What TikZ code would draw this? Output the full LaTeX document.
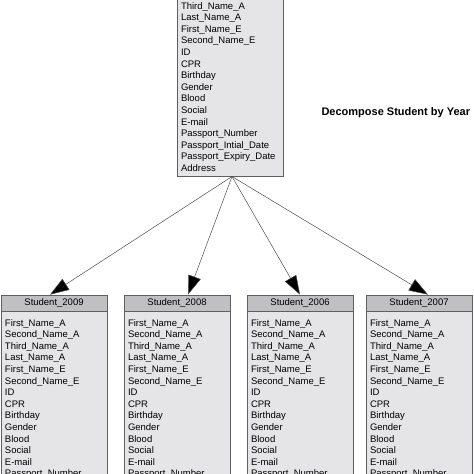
\documentclass[tikz,border=0pt]{standalone}
\usepackage{fontspec}
\setmainfont{Liberation Sans}
\usetikzlibrary{positioning,arrows.meta}

\definecolor{bodyfill}{RGB}{229,229,231}
\definecolor{headfill}{RGB}{192,192,194}
\definecolor{edgegray}{RGB}{95,95,95}

\tikzset{
  fieldbox/.style={draw=edgegray, fill=bodyfill, line width=0.7pt,
    text width=98pt, align=left, inner xsep=4pt, inner ysep=4.5pt,
    font=\fontsize{9.5}{11.6}\selectfont},
  headbox/.style={draw=edgegray, fill=headfill, line width=0.7pt,
    minimum width=106pt, minimum height=16pt, inner sep=0pt,
    font=\fontsize{9.5}{11.6}\selectfont},
  link/.style={draw=black!70, line width=0.5pt,
    -{Triangle[length=19pt,width=13pt,fill=black]}}
}

\newcommand{\yearfields}{First\_Name\_A\\ Second\_Name\_A\\ Third\_Name\_A\\
  Last\_Name\_A\\ First\_Name\_E\\ Second\_Name\_E\\ ID\\ CPR\\ Birthday\\
  Gender\\ Blood\\ Social\\ E-mail\\ Passport\_Number}

\begin{document}
\begin{tikzpicture}[x=1pt,y=-1pt]
\useasboundingbox (0,0) rectangle (474,474);
\clip (0,0) rectangle (474,474);

% person table, cut at the top
\node[fieldbox, anchor=south] (person) at (230,176.5) {Third\_Name\_A\\
  Last\_Name\_A\\ First\_Name\_E\\ Second\_Name\_E\\ ID\\ CPR\\ Birthday\\
  Gender\\ Blood\\ Social\\ E-mail\\ Passport\_Number\\
  Passport\_Intial\_Date\\ Passport\_Expiry\_Date\\ Address};

\node[anchor=west, font=\fontsize{11}{13}\selectfont\bfseries] (title)
  at (318,113) {Decompose Student by Year};

% one table per year
\foreach \yr/\xc/\tipx in {2009/54/-4, 2008/177/11, 2006/300/0, 2007/419/9} {
  \node[headbox] (h\yr) at (\xc,303) {Student\_\yr};
  \node[fieldbox, inner ysep=7.5pt, below=0pt of h\yr] (b\yr) {\yearfields};
  \draw[link] ([xshift=2pt]person.south) -- ([xshift=\tipx pt]h\yr.north);
}
\end{tikzpicture}
\end{document}
